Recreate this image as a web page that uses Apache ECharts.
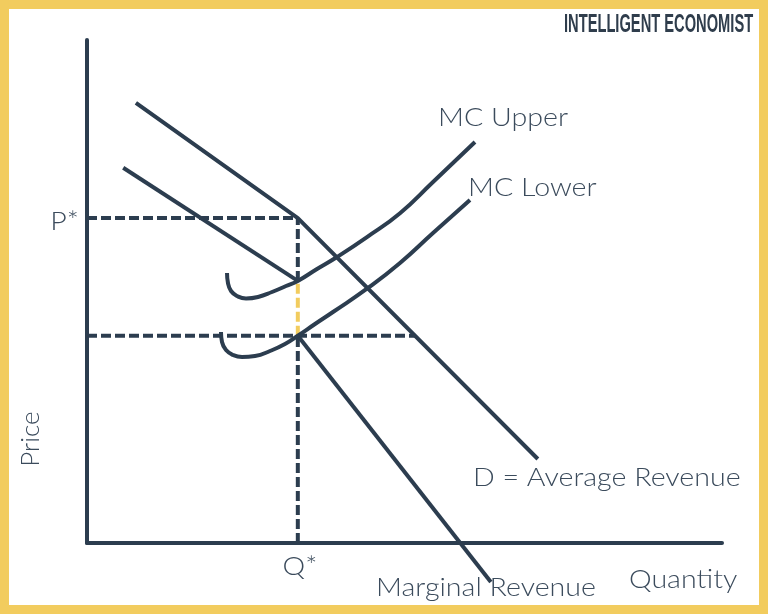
<!DOCTYPE html>
<html>
<head>
<meta charset="utf-8">
<script src="https://cdn.jsdelivr.net/npm/echarts@6/dist/echarts.min.js"></script>
<style>
html,body{margin:0;padding:0;background:#fff;}
#chart{width:768px;height:614px;}
</style>
</head>
<body>
<div id="chart"></div>
<script>
// Quantity (x) and Price (y) in arbitrary units
const qStar = 33.2;
const pStar = 64.6;
const pLow = 41.2;

const demandAR = [[7.7, 87.5], [33.2, 64.6], [71.0, 16.7]];
const mrUpper = [[5.7, 74.6], [33.2, 52.1]];
const mrLower = [[33.2, 41.2], [63.6, -7.75]];
const mcUpper = [[22.05, 53.68], [22.2, 51.69], [22.68, 50.1], [23.62, 49.11], [25.04, 48.61], [26.93, 48.91], [29.13, 49.9], [31.34, 51.09], [33.2, 52.1], [36.22, 54.47], [39.37, 56.86], [44.09, 60.83], [49.29, 65.57], [54.49, 71.77], [61.1, 79.72]];
const mcLower = [[21.1, 41.95], [21.26, 39.96], [21.89, 38.37], [22.99, 37.38], [24.41, 36.98], [26.46, 37.18], [28.82, 38.17], [31.18, 39.56], [33.2, 41.2], [35.91, 43.54], [38.74, 45.92], [44.25, 50.7], [49.29, 55.67], [54.49, 61.63], [60.31, 68.19]];
const lowDashEndQ = 51.7;

const navy = '#2c3d4f';
const textColor = '#3b4b5c';
const yellow = '#f2cc5e';
const font = 'Lato, "Open Sans", sans-serif';

function seg(data, color, dashed, z) {
  return {
    type: 'line', data: data, symbol: 'none', clip: false, silent: true, z: z,
    lineStyle: { color: color, width: 4, type: dashed ? [10, 4] : 'solid', cap: 'butt' }
  };
}
function curve(data) {
  return {
    type: 'line', data: data, symbol: 'none', clip: false, silent: true, z: 5,
    smooth: 0.5,
    lineStyle: { color: navy, width: 4, cap: 'butt' }
  };
}
function label(text, x, y, align, extra) {
  return Object.assign({
    type: 'text', x: x, y: y, silent: true, scaleX: 1.1,
    style: { text: text, fill: textColor, font: '300 26px ' + font, align: align || 'left', verticalAlign: 'middle' }
  }, extra || {});
}

const chart = echarts.init(document.getElementById('chart'), null, { renderer: 'canvas' });
chart.setOption({
  backgroundColor: '#ffffff',
  animation: false,
  grid: { left: 87, right: 46, top: 40, bottom: 71 },
  xAxis: {
    type: 'value', min: 0, max: 100,
    axisLine: { show: true, onZero: false, lineStyle: { color: navy, width: 4 } },
    axisTick: { show: false }, axisLabel: { show: false }, splitLine: { show: false }
  },
  yAxis: {
    type: 'value', min: 0, max: 100,
    axisLine: { show: true, onZero: false, lineStyle: { color: navy, width: 4 } },
    axisTick: { show: false }, axisLabel: { show: false }, splitLine: { show: false }
  },
  series: [
    seg([[0, pStar], [qStar, pStar]], navy, true, 2),
    seg([[0, pLow], [lowDashEndQ, pLow]], navy, true, 2),
    seg([[qStar, 0], [qStar, pLow]], navy, true, 2),
    seg([[qStar, pLow], [qStar, mrUpper[1][1]]], yellow, true, 2),
    seg([[qStar, mrUpper[1][1]], [qStar, pStar]], navy, true, 2),
    seg(demandAR, navy, false, 4),
    seg(mrUpper, navy, false, 4),
    seg(mrLower, navy, false, 4),
    curve(mcUpper),
    curve(mcLower)
  ],
  graphic: [
    { type: 'rect', silent: true, shape: { x: 4.5, y: 4.5, width: 759, height: 605 }, style: { fill: 'none', stroke: yellow, lineWidth: 9 } },
    { type: 'text', x: 564, y: 25, scaleX: 0.587, silent: true,
      style: { text: 'INTELLIGENT ECONOMIST', fill: '#2f3d4c', font: 'bold 25px "Liberation Sans", Arial, sans-serif', align: 'left', verticalAlign: 'middle' } },
    label('MC Upper', 438, 118),
    label('MC Lower', 468, 188),
    label('P*', 79, 222, 'right'),
    label('Q*', 300, 567, 'center'),
    label('D = Average Revenue', 473, 478),
    label('Marginal Revenue', 376, 588),
    label('Quantity', 629, 580),
    label('Price', 31, 439, 'center', { rotation: Math.PI / 2, scaleX: 1 })
  ]
});
</script>
</body>
</html>
